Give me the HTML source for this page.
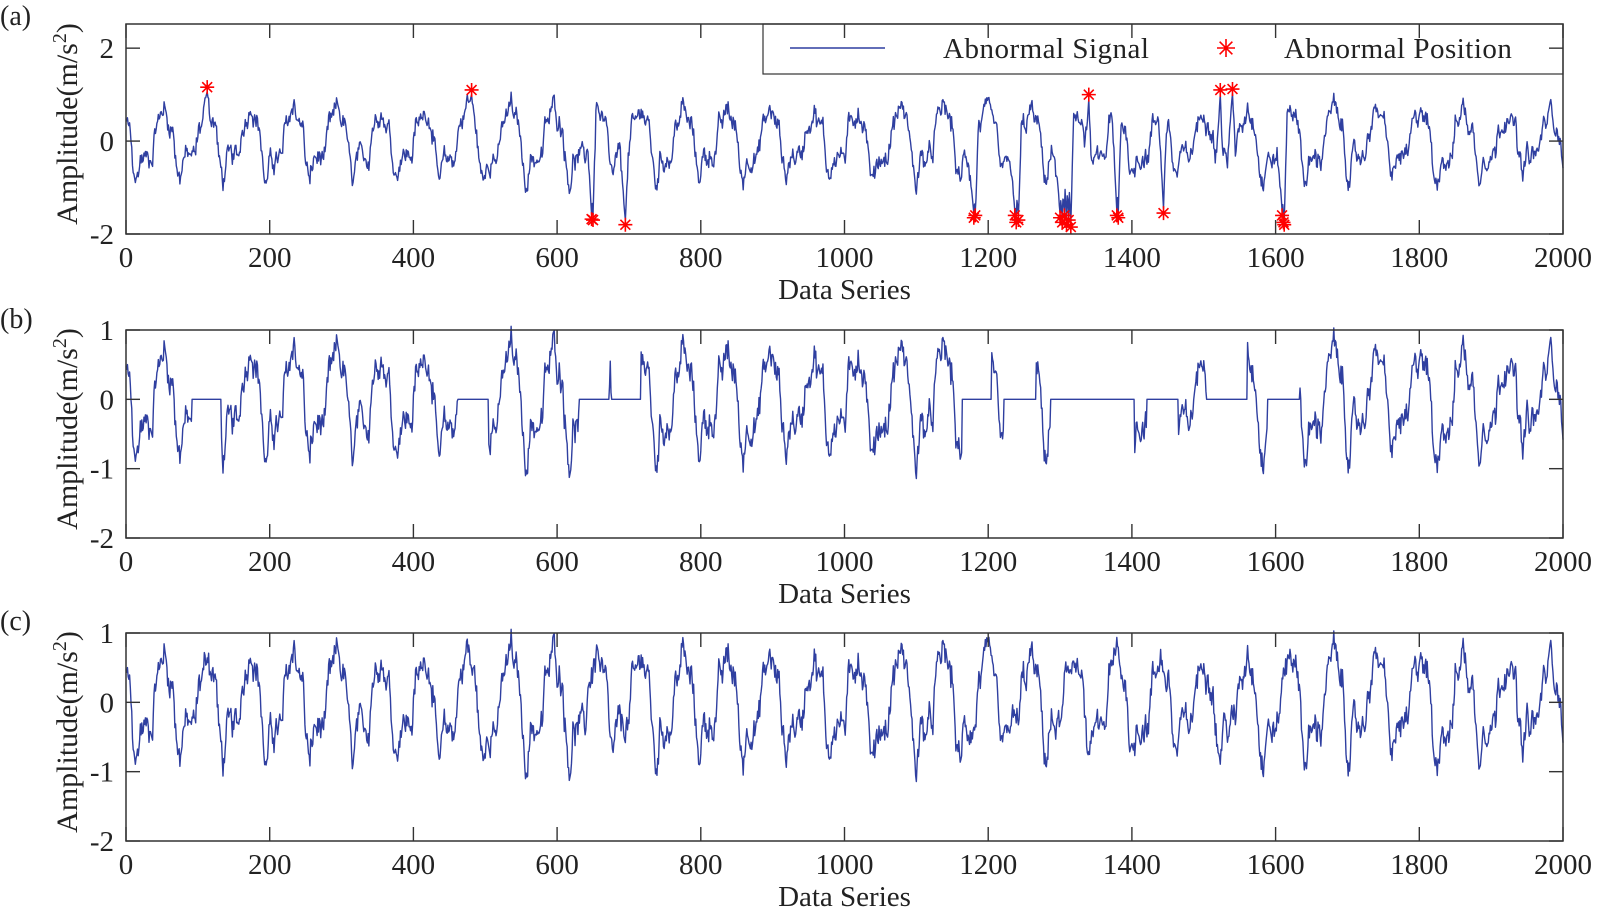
<!DOCTYPE html>
<html><head><meta charset="utf-8"><style>
html,body{margin:0;padding:0;background:#fff;}
svg{display:block;}
text{font-family:"Liberation Serif","Times New Roman",serif;fill:#222;}
</style></head><body>
<svg id="s" width="1600" height="918" xmlns="http://www.w3.org/2000/svg">
<text x="0" y="25" font-size="28">(a)</text>
<text x="0" y="328" font-size="28">(b)</text>
<text x="0" y="630" font-size="28">(c)</text>
</svg>
<script>
var S=document.getElementById('s'),NS='http://www.w3.org/2000/svg';
function el(t,a,txt){var e=document.createElementNS(NS,t);for(var k in a)e.setAttribute(k,a[k]);if(txt!=null)e.textContent=txt;S.appendChild(e);return e;}
var seed=12345;function rnd(){seed=(seed*1103515245+12345)%2147483648;return seed/2147483648;}
var L=126,R=1563,N=2000;function X(i){return L+(R-L)*i/N;}
var per=60.3,off=-7,amps=[];for(var k=0;k<40;k++)amps.push(0.75+rnd()*0.3);
function shape(p){var pts=[[0,0.85],[0.08,0.5],[0.2,0.3],[0.27,-0.5],[0.36,-0.95],[0.45,-0.4],[0.72,-0.35],[0.8,0.35],[0.9,0.5],[1,0.85]];
for(var i=0;i<pts.length-1;i++){if(p>=pts[i][0]&&p<=pts[i+1][0]){var t=(p-pts[i][0])/(pts[i+1][0]-pts[i][0]);return pts[i][1]+t*(pts[i+1][1]-pts[i][1]);}}return 0;}
var s=[],n1=0;
for(var i=0;i<=N;i++){var ph=(i-off)/per,k=Math.floor(ph),p=ph-k;var a=amps[(k+40)%40];
n1=0.7*n1+(rnd()-0.5)*0.3;var v=shape(p)*a+n1+(rnd()-0.5)*0.2;s.push(v);}
var flats=[[92,132],[462,504],[631,672],[676,716],[1164,1204],[1222,1266],[1287,1403],[1421,1464],[1504,1560],[1589,1633]];
var b=s.slice();flats.forEach(function(f){for(var i=f[0];i<=f[1];i++)b[i]=0;});
b[674]=0.55;b[673]=0.2;b[675]=0.1;
var a=s.slice();
var stars=[[113,1.16],[481,1.1],[648,-1.68],[650,-1.7],[695,-1.8],[1182,-1.6],[1180,-1.65],[1237,-1.6],[1239,-1.75],[1242,-1.7],[1300,-1.65],[1303,-1.75],[1306,-1.6],[1309,-1.8],[1312,-1.7],[1315,-1.85],[1340,1.0],[1381,-1.65],[1379,-1.6],[1444,-1.55],[1523,1.1],[1540,1.12],[1609,-1.6],[1611,-1.75],[1612,-1.8]];
stars.forEach(function(st){var c=st[0],t=st[1]+(st[1]<0?0.1:-0.1);
 for(var j=-6;j<=3;j++){var w=j<=0?(1+j/7):(1-j/4);var i=c+j;var nv=s[i]+(t-s[i])*w+(rnd()-0.5)*0.25*(1-w);
  if(t<0)a[i]=Math.min(a[i],nv);else a[i]=Math.max(a[i],nv);}
 a[c]=t;});
function star(cx,cy,r){var g='';for(var j=0;j<4;j++){var an=j*Math.PI/4+Math.PI/2;g+='M'+(cx-r*Math.cos(an))+' '+(cy-r*Math.sin(an))+'L'+(cx+r*Math.cos(an))+' '+(cy+r*Math.sin(an));}
 el('path',{d:g,stroke:'#f00','stroke-width':1.6,fill:'none'});}
function panel(data,top,bot,ymin,ymax,yt,legend,st){
 function Y(v){return bot-(v-ymin)/(ymax-ymin)*(bot-top);}
 var d='';for(var i=0;i<=N;i++)d+=(i?'L':'M')+X(i).toFixed(2)+' '+Y(data[i]).toFixed(2);
 el('path',{d:d,fill:'none',stroke:'#2f3fa0','stroke-width':1.4,'stroke-linejoin':'round'});
 if(st)st.forEach(function(q){star(X(q[0]),Y(q[1]),7);});
 if(legend){el('rect',{x:763,y:top,width:R-763,height:50,fill:'#fff',stroke:'#333','stroke-width':1.2});
 el('line',{x1:790,y1:top+24,x2:885,y2:top+24,stroke:'#2f3fa0','stroke-width':1.4});
 el('text',{x:943,y:top+34,'font-size':29,'letter-spacing':'0.5'},'Abnormal Signal');
 star(1226,top+24,9);
 el('text',{x:1284,y:top+34,'font-size':29,'letter-spacing':'0.5'},'Abnormal Position');}
 el('rect',{x:L,y:top,width:R-L,height:bot-top,fill:'none',stroke:'#333','stroke-width':1.5});
 for(var t=0;t<=2000;t+=200){var x=X(t);
  el('line',{x1:x,y1:bot,x2:x,y2:bot-14,stroke:'#333','stroke-width':1.4});
  el('line',{x1:x,y1:top,x2:x,y2:top+14,stroke:'#333','stroke-width':1.4});
  el('text',{x:x,y:bot+33,'font-size':29,'text-anchor':'middle'},String(t));}
 yt.forEach(function(v){var y=Y(v);
  el('line',{x1:L,y1:y,x2:L+14,y2:y,stroke:'#333','stroke-width':1.4});
  el('line',{x1:R,y1:y,x2:R-14,y2:y,stroke:'#333','stroke-width':1.4});
  el('text',{x:L-12,y:y+10,'font-size':29,'text-anchor':'end'},String(v));});
 el('text',{x:(L+R)/2,y:bot+65,'font-size':29,'text-anchor':'middle'},'Data Series');
 var cy=(top+bot)/2-5;var tx=el('text',{x:0,y:0,'font-size':30,'text-anchor':'middle',transform:'translate(77,'+cy+') rotate(-90)'});
 tx.innerHTML='Amplitude(m/s<tspan dy="-11" font-size="20">2</tspan><tspan dy="11">)</tspan>';
}
panel(a,24,234,-2,2.52,[-2,0,2],true,stars);
panel(b,330,538,-2,1,[-2,-1,0,1],false,null);
panel(s,633,841,-2,1,[-2,-1,0,1],false,null);
</script>
</body></html>
